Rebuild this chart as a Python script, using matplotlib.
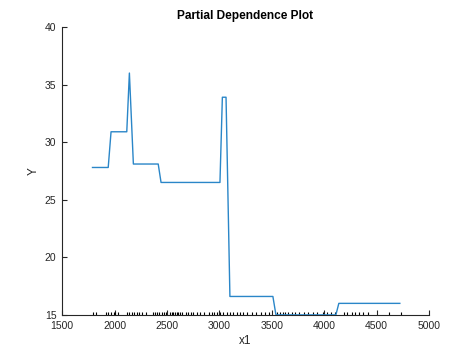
import matplotlib
matplotlib.use('Agg')
import matplotlib.pyplot as plt


# partial dependence curve (x1 grid vs predicted Y)
pd_x = [1790, 1940, 1967, 2117, 2142, 2180, 2417, 2444, 3006, 3029, 3064, 3101,
        3511, 3540, 4112, 4140, 4722]
pd_y = [27.8, 27.8, 30.9, 30.9, 36.0, 28.1, 28.1, 26.5, 26.5, 33.9, 33.9, 16.6,
        16.6, 15.0, 15.0, 16.0, 16.0]

# observed x1 values shown as a rug along the bottom
rug_x = [1793, 1824, 1920, 1942, 1964, 1995, 2005, 2037, 2117, 2139, 2165, 2187,
         2212, 2237, 2260, 2301, 2365, 2387, 2409, 2428, 2451, 2473, 2490, 2530,
         2546, 2561, 2578, 2594, 2609, 2625, 2642, 2683, 2705, 2727, 2746, 2785,
         2816, 2854, 2905, 2928, 2950, 2975, 3007, 3033, 3071, 3102, 3134, 3166,
         3198, 3229, 3267, 3309, 3350, 3395, 3436, 3477, 3553, 3579, 3605, 3627,
         3658, 3691, 3722, 3763, 3808, 3849, 3891, 3935, 3986, 4030, 4063, 4104,
         4189, 4221, 4263, 4294, 4335, 4373, 4421, 4621, 4730]

x_ticks = [1500, 2000, 2500, 3000, 3500, 4000, 4500, 5000]
y_ticks = [15, 20, 25, 30, 35, 40]

plt.rcParams['font.family'] = ['Liberation Sans', 'DejaVu Sans']

fig = plt.figure(figsize=(4.74, 3.55), dpi=100)
ax = fig.add_axes([0.131, 0.113, 0.774, 0.811])

ax.plot(pd_x, pd_y, color='#2a86c8', linewidth=1.0, zorder=3)
ax.vlines(rug_x, 15, 15.28, color='black', linewidth=0.8, zorder=2)

ax.set_xlim(1500, 5000)
ax.set_ylim(15, 40)
ax.set_xticks(x_ticks)
ax.set_yticks(y_ticks)

for side in ('top', 'right'):
    ax.spines[side].set_visible(False)
for side in ('left', 'bottom'):
    ax.spines[side].set_color('#262626')
    ax.spines[side].set_linewidth(0.8)

ax.tick_params(direction='in', length=3.5, width=0.8, colors='#262626',
               labelsize=7.5)
ax.tick_params(axis='x', pad=4.5)
ax.tick_params(axis='y', pad=4)

ax.set_title('Partial Dependence Plot', fontsize=8.6, fontweight='bold', pad=6)
ax.set_xlabel('x1', fontsize=8.5, color='#262626', labelpad=3)
ax.set_ylabel('Y', fontsize=8.5, color='#262626', labelpad=4)

fig.savefig('out.png', dpi=100)
